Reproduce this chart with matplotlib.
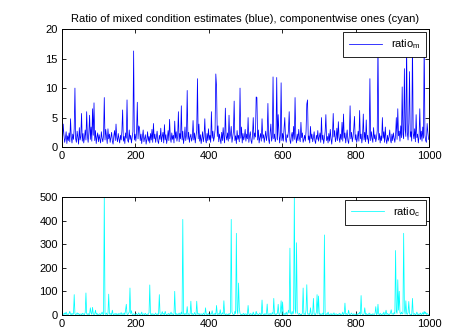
import numpy as np
import matplotlib
matplotlib.use("Agg")
import matplotlib.pyplot as plt

plt.rcParams['font.family'] = ['Liberation Sans', 'DejaVu Sans']
plt.rcParams['mathtext.fontset'] = 'custom'
plt.rcParams['mathtext.rm'] = 'Liberation Sans'
plt.rcParams['mathtext.it'] = 'Liberation Sans'

# sample positions (every second index of the 1..1000 run)
sample_index = np.arange(1, 1000, 2)

# mixed condition estimate ratios
ratio_m = [
    1.2, 3.9, 2.1, 0.8, 1.5, 2.6, 0.6, 1.9, 1.1, 2.4, 0.9, 4.8, 1.7, 0.7, 2.2, 1.3, 3.1, 10.0, 1.4, 0.8, 2.7, 1.6, 0.5, 3.3, 1.2,
    1.8, 5.7, 1.0, 2.3, 0.7, 1.6, 2.9, 1.2, 6.0, 1.9, 0.8, 2.5, 5.4, 1.3, 3.4, 1.0, 6.5, 2.0, 7.5, 1.1, 2.8, 0.6, 1.7, 2.4, 0.9,
    2.1, 1.3, 0.7, 2.6, 1.5, 0.9, 2.0, 8.4, 1.2, 3.0, 1.8, 0.6, 3.1, 1.4, 2.2, 0.8, 1.7, 2.5, 1.0, 0.5, 1.9, 2.8, 1.1, 3.9, 1.6,
    0.9, 2.3, 1.4, 0.7, 2.0, 1.2, 2.7, 6.3, 1.0, 1.8, 0.6, 2.4, 1.5, 8.0, 1.1, 0.8, 2.9, 1.3, 2.0, 0.7, 1.6, 2.6, 16.3, 1.2, 2.2,
    1.0, 2.5, 7.6, 1.4, 3.6, 3.3, 1.1, 2.2, 0.6, 1.7, 2.9, 0.9, 1.5, 2.1, 0.5, 1.3, 2.6, 1.0, 1.8, 0.7, 2.3, 1.2, 3.0, 0.8, 4.0,
    1.4, 2.2, 0.8, 1.7, 2.7, 1.0, 0.6, 2.0, 1.3, 3.2, 0.9, 1.8, 2.5, 0.7, 3.8, 1.2, 2.1, 0.6, 1.5, 2.8, 1.1, 4.7, 1.6, 0.8, 2.4,
    1.3, 2.0, 0.7, 4.4, 1.5, 2.6, 1.0, 1.8, 6.0, 0.9, 2.3, 1.4, 7.0, 1.2, 2.7, 0.6, 1.6, 3.4, 1.1, 2.0, 9.6, 1.3, 2.5, 0.8, 1.7,
    2.2, 1.0, 1.6, 4.5, 1.2, 2.4, 0.7, 1.9, 2.8, 11.6, 1.4, 3.9, 1.0, 2.1, 0.6, 1.5, 2.6, 0.9, 1.8, 4.8, 1.3, 0.7, 2.3, 1.1, 3.1,
    1.2, 2.0, 0.8, 6.0, 1.5, 2.7, 1.0, 1.7, 3.0, 12.4, 10.3, 1.8, 3.6, 0.9, 2.2, 1.3, 0.6, 2.5, 1.1, 3.3, 1.6, 0.7, 6.6, 1.9, 1.2,
    2.4, 1.0, 5.4, 1.4, 2.1, 3.5, 0.8, 1.7, 2.6, 7.8, 1.1, 1.9, 0.6, 2.8, 1.3, 2.0, 0.9, 10.0, 1.5, 3.4, 0.7, 2.3, 1.2, 1.8, 3.0,
    1.0, 2.2, 1.4, 5.0, 0.8, 1.9, 2.6, 1.1, 0.6, 2.0, 5.0, 1.3, 2.4, 1.7, 8.5, 8.4, 1.2, 2.9, 0.7, 1.6, 2.3, 1.0, 4.8, 1.5, 2.1,
    0.8, 1.8, 2.7, 1.1, 2.0, 7.4, 1.3, 0.6, 2.4, 3.9, 1.0, 1.7, 11.9, 1.4, 2.2, 0.9, 1.5, 11.8, 1.2, 5.5, 2.6, 0.7, 1.9, 10.9, 1.1,
    2.3, 1.0, 3.2, 5.0, 1.4, 0.8, 2.1, 1.6, 2.8, 6.0, 1.2, 0.6, 1.9, 2.5, 1.0, 3.5, 1.3, 8.4, 1.8, 0.7, 2.2, 1.1, 3.0, 1.5, 0.9,
    4.2, 1.6, 2.4, 0.8, 1.3, 2.0, 1.0, 2.7, 7.3, 8.0, 1.2, 1.9, 0.7, 3.5, 1.4, 2.2, 0.9, 1.6, 2.6, 1.1, 0.6, 2.0, 1.3, 2.8, 1.0,
    1.7, 2.4, 0.8, 5.0, 1.2, 2.0, 0.6, 1.5, 2.6, 5.5, 1.1, 1.8, 0.7, 2.3, 1.0, 3.0, 1.4, 0.5, 2.1, 5.7, 1.7, 2.8, 0.9, 1.5, 3.2,
    1.1, 4.3, 1.6, 0.8, 2.2, 1.3, 4.2, 1.0, 5.6, 1.5, 2.4, 0.7, 1.8, 2.9, 1.1, 0.6, 2.0, 7.0, 1.4, 2.5, 0.9, 1.7, 3.1, 5.2, 1.2,
    2.1, 0.8, 1.5, 2.7, 1.0, 6.2, 1.4, 2.2, 0.7, 1.8, 5.6, 1.2, 2.5, 0.9, 4.6, 1.3, 2.0, 0.6, 1.7, 11.6, 1.1, 2.6, 1.5, 0.8, 3.3,
    1.4, 2.1, 0.9, 1.6, 2.8, 18.0, 1.2, 2.3, 0.7, 1.9, 1.1, 5.0, 1.5, 2.6, 0.8, 3.4, 1.3, 0.6, 2.0, 1.0, 1.7, 2.9, 1.2, 0.7, 2.2,
    1.1, 2.4, 1.5, 0.8, 2.0, 5.0, 1.3, 6.5, 1.9, 2.7, 1.0, 3.6, 1.6, 10.2, 2.2, 1.4, 13.3, 3.0, 1.8, 18.0, 2.5, 1.2, 4.1, 12.8, 1.7,
    2.6, 1.0, 18.0, 2.3, 1.4, 3.1, 0.9, 5.5, 1.6, 2.2, 0.7, 1.8, 6.5, 1.3, 2.7, 1.0, 3.4, 1.5, 18.0, 2.0, 1.1, 0.8, 4.0, 2.5, 1.3,
]

# componentwise estimate ratios
ratio_c = [
    2, 5, 1, 8, 3, 12, 1, 4, 2, 6, 15, 3, 1, 7, 2, 4, 86, 5, 1, 3, 9, 2, 6, 1, 4,
    3, 1, 7, 2, 5, 1, 10, 93, 4, 2, 6, 1, 3, 30, 8, 2, 32, 5, 1, 4, 20, 2, 7, 1, 3,
    2, 6, 1, 4, 12, 3, 1, 510, 5, 2, 8, 1, 3, 88, 4, 2, 6, 1, 20, 3, 1, 5, 2, 7, 1,
    4, 1, 7, 2, 3, 10, 1, 5, 2, 8, 1, 20, 45, 3, 1, 6, 12, 114, 4, 18, 2, 1, 5, 3, 1,
    3, 6, 1, 2, 9, 1, 4, 2, 12, 1, 3, 5, 1, 7, 2, 1, 4, 2, 10, 127, 3, 1, 6, 2, 4,
    1, 3, 8, 2, 1, 5, 2, 86, 4, 1, 3, 14, 2, 6, 1, 15, 3, 1, 4, 2, 7, 1, 3, 12, 2,
    5, 1, 3, 100, 2, 6, 1, 4, 2, 8, 1, 3, 12, 2, 405, 4, 1, 7, 2, 3, 35, 1, 5, 2, 4,
    58, 2, 6, 1, 3, 10, 2, 1, 58, 4, 2, 7, 1, 3, 5, 2, 1, 8, 3, 1, 30, 2, 4, 1, 6,
    2, 1, 5, 3, 18, 1, 4, 2, 7, 1, 40, 3, 1, 6, 2, 22, 1, 3, 9, 2, 60, 4, 1, 5, 2,
    3, 1, 6, 2, 8, 405, 12, 4, 2, 1, 15, 5, 346, 20, 3, 135, 30, 6, 2, 1, 4, 2, 7, 1, 3,
    5, 2, 1, 40, 3, 1, 6, 2, 4, 1, 12, 2, 3, 1, 15, 2, 5, 1, 3, 8, 2, 1, 63, 4, 2,
    1, 6, 2, 3, 46, 1, 4, 2, 7, 1, 3, 10, 2, 70, 4, 1, 5, 2, 8, 45, 3, 1, 12, 60, 2,
    55, 3, 1, 6, 2, 12, 1, 4, 20, 8, 283, 5, 2, 15, 3, 10, 510, 25, 6, 306, 12, 4, 2, 7, 1,
    3, 1, 8, 114, 2, 5, 1, 20, 128, 4, 2, 6, 1, 30, 3, 1, 5, 70, 2, 4, 1, 12, 86, 3, 80,
    2, 6, 1, 4, 2, 8, 1, 339, 3, 1, 5, 2, 12, 1, 3, 2, 6, 1, 4, 2, 9, 1, 3, 5, 2,
    1, 4, 2, 7, 1, 3, 2, 12, 1, 5, 50, 2, 6, 1, 3, 20, 2, 1, 4, 8, 2, 1, 5, 3, 1,
    4, 2, 1, 6, 3, 12, 1, 82, 5, 2, 1, 4, 30, 2, 6, 1, 3, 2, 8, 1, 4, 2, 1, 5, 3,
    2, 6, 35, 1, 4, 45, 3, 1, 7, 2, 1, 5, 2, 12, 1, 3, 20, 2, 6, 1, 4, 2, 8, 22, 3,
    5, 2, 10, 4, 273, 15, 6, 149, 20, 100, 8, 3, 12, 4, 6, 346, 25, 3, 60, 5, 2, 10, 57, 4, 2,
    3, 1, 70, 4, 2, 6, 1, 3, 12, 2, 1, 5, 2, 8, 1, 3, 10, 2, 15, 4, 12, 2, 6, 3, 1,
]

x_ticks = [0, 200, 400, 600, 800, 1000]
m_ticks = [0, 5, 10, 15, 20]
c_ticks = [0, 100, 200, 300, 400, 500]

title_text = 'Ratio of mixed condition estimates (blue), componentwise ones (cyan)'

fig = plt.figure(figsize=(4.74, 3.35), dpi=100)
ax1 = fig.add_axes([0.131, 0.561, 0.774, 0.352])
ax2 = fig.add_axes([0.131, 0.060, 0.774, 0.352])


def style(ax, yticks):
    ax.set_xlim(0, 1000)
    ax.set_ylim(yticks[0], yticks[-1])
    ax.set_xticks(x_ticks)
    ax.set_yticks(yticks)
    ax.tick_params(direction='in', length=3, width=0.6, top=True, right=True,
                   labelsize=8, pad=3, colors='black')
    for sp in ax.spines.values():
        sp.set_linewidth(0.7)
        sp.set_color('black')


ax1.plot(sample_index, ratio_m, color='#0000ff', lw=0.55, label=r'ratio$_{\rm m}$')
style(ax1, m_ticks)
ax1.set_title(title_text, fontsize=8, pad=5)
leg1 = ax1.legend(loc='upper right', fontsize=8, handlelength=3.0, borderaxespad=0.25,
                  fancybox=False, framealpha=1, edgecolor='black', borderpad=0.5)
leg1.get_frame().set_linewidth(0.6)

ax2.plot(sample_index, ratio_c, color='#00ffff', lw=0.55, label=r'ratio$_{\rm c}$')
style(ax2, c_ticks)
leg2 = ax2.legend(loc='upper right', fontsize=8, handlelength=3.0, borderaxespad=0.25,
                  fancybox=False, framealpha=1, edgecolor='black', borderpad=0.5)
leg2.get_frame().set_linewidth(0.6)

fig.savefig('out.png', dpi=100)
